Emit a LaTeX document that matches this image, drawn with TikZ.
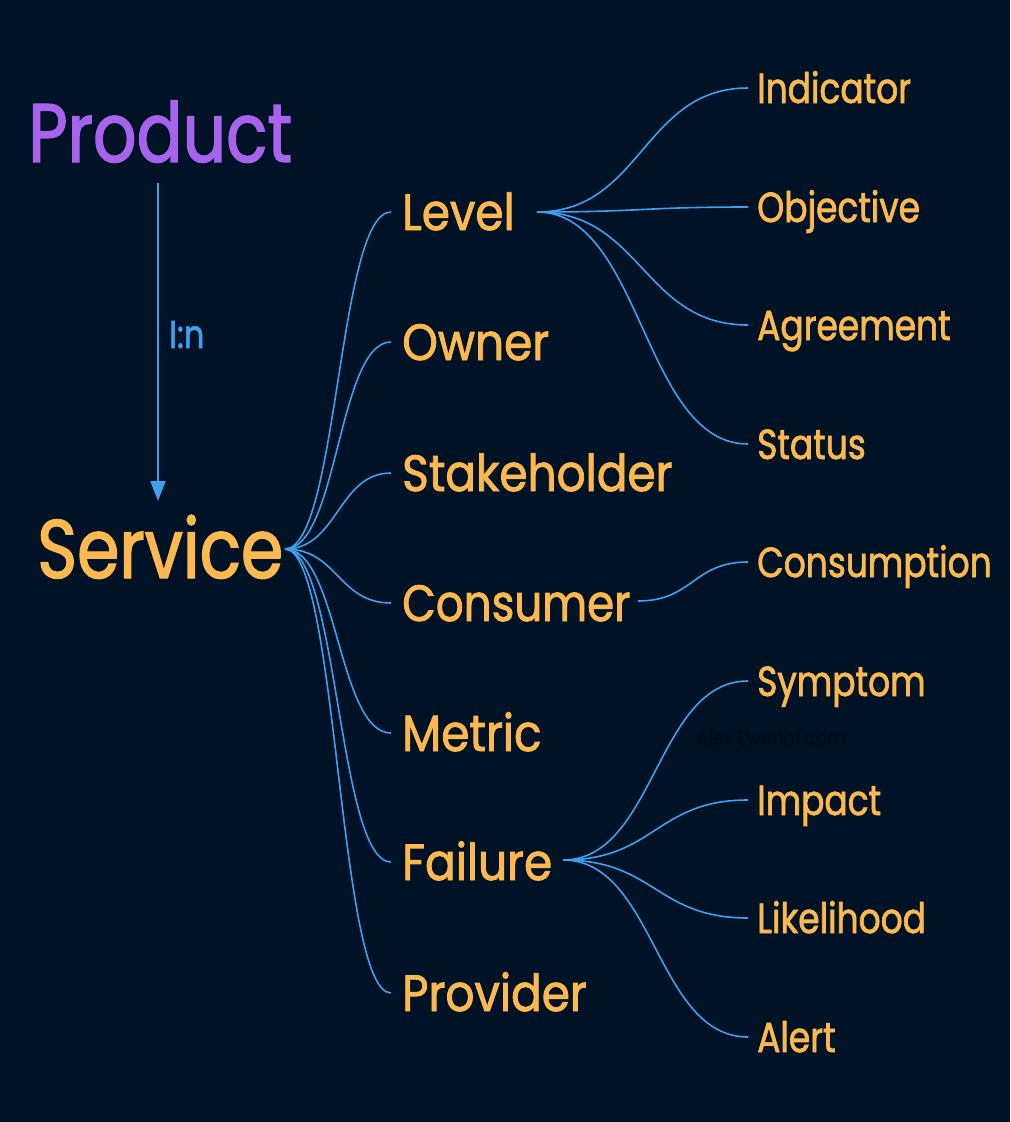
\documentclass[tikz,border=0pt]{standalone}
\usepackage{fontspec}
\setmainfont{Poppins}[FakeStretch=0.82, FakeBold=1.6]
\newfontfamily\midfont{Poppins}[FakeStretch=0.89, FakeBold=1.6]
\newfontfamily\wmfont{Poppins}[FakeStretch=0.9, FakeBold=1.2]
\usetikzlibrary{arrows.meta}
\definecolor{bg}{HTML}{001326}
\definecolor{org}{HTML}{FDB94F}
\definecolor{pur}{HTML}{A763EB}
\definecolor{blu}{HTML}{3FA0F0}
\definecolor{wm}{HTML}{000A17}
\begin{document}
\begin{tikzpicture}[x=1pt,y=-1pt,
  lbl/.style={text=org, anchor=west, inner ysep=0pt, text depth=0pt},
  bigtxt/.style={lbl, inner xsep=0pt, text height=58pt, font=\fontsize{83}{83}\selectfont},
  midtxt/.style={lbl, inner xsep=11pt, text height=36pt, font=\midfont\fontsize{51}{51}\selectfont},
  smalltxt/.style={lbl, inner xsep=9pt, text height=30pt, font=\fontsize{42}{42}\selectfont},
  conn/.style={draw=blu, line width=1.6pt},
  fan/.style={conn, to path={.. controls +(#1,0) and +(-#1,0) .. (\tikztotarget)}},
]
\fill[bg] (0,0) rectangle (1010,1122);

% watermark
\node[text=wm, font=\wmfont\fontsize{20}{20}\selectfont, inner sep=0pt] (wmk) at (771,737) {Alex Ewerlof.com};

% left column
\node[bigtxt, text=pur] (prod) at (28,133) {Product};
\node[bigtxt] (serv) at (37,549) {Service};
\coordinate (arrS) at (158,183);
\coordinate (arrE) at (158,501);
\draw[draw=blu, line width=2pt, -{Triangle[length=20pt,width=15pt]}] (arrS) -- (arrE);
\node[text=blu, anchor=base west, inner sep=0pt, font=\fontsize{39}{39}\selectfont] (rel) at (169,348) {I:n};
\coordinate (servOut) at (285,549);

% middle column
\node[midtxt] (level) at (391,212) {Level};
\node[midtxt] (owner) at (391,342) {Owner};
\node[midtxt] (stake) at (391,473) {Stakeholder};
\node[midtxt] (cons) at (391,603) {\scalebox{0.96}[1]{Consumer}};
\node[midtxt] (metric) at (391,733) {Metric};
\node[midtxt] (fail) at (391,862) {Failure};
\node[midtxt] (prov) at (391,993) {Provider};

\foreach \n in {level,owner,stake,cons,metric,fail,prov}
  \draw (servOut) edge[fan=53] (\n.west);

\coordinate (levelOut) at (537,212);
\coordinate (consOut) at (638,601);
\coordinate (failOut) at (563,860);

% right column
\node[smalltxt] (ind) at (748,88) {Indicator};
\node[smalltxt] (obj) at (748,207) {Objective};
\node[smalltxt] (agr) at (748,325) {Agreement};
\node[smalltxt] (stat) at (748,444) {Status};
\node[smalltxt] (cnsm) at (748,562) {Consumption};
\node[smalltxt] (symp) at (748,681) {Symptom};
\node[smalltxt] (imp) at (748,800) {Impact};
\node[smalltxt] (like) at (748,918) {Likelihood};
\node[smalltxt] (alert) at (748,1037) {Alert};

\foreach \n in {ind,obj,agr,stat}
  \draw (levelOut) edge[fan=105] (\n.west);
\draw (consOut) edge[fan=55] (cnsm.west);
\foreach \n in {symp,imp,like,alert}
  \draw (failOut) edge[fan=92] (\n.west);
\end{tikzpicture}
\end{document}
